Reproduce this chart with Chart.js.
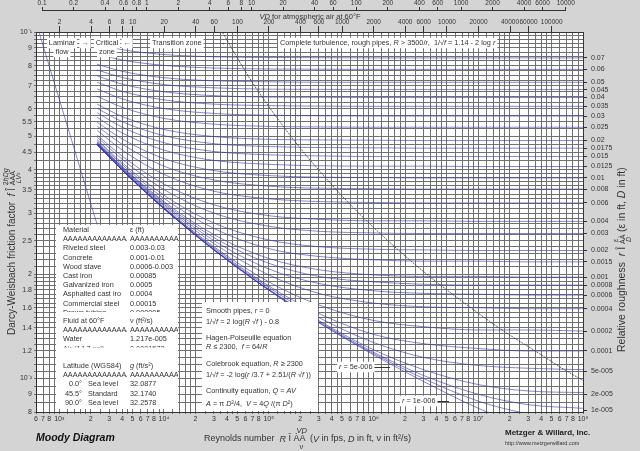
<!DOCTYPE html>
<html>
<head>
<meta charset="utf-8">
<title>Moody Diagram</title>
<script src="https://cdn.jsdelivr.net/npm/chart.js@4.4.1/dist/chart.umd.min.js"></script>
<style>
  html, body { margin: 0; padding: 0; background: #d4d4d4; }
  canvas { display: block; }
</style>
</head>
<body>
<canvas id="moody" width="640" height="451"></canvas>
<script>
const FONT = 'Arial, "Liberation Sans", sans-serif';
const TEXT = '#333';
const GRID = '#707070';
const FRAME = '#333';
const CURVE = 'rgba(55, 55, 165, 0.6)';

const reynolds = [2300, 4000, 1e4, 3e4, 1e5, 3e5, 1e6, 3e6, 1e7, 3e7, 1e8];

// relative roughness of each curve, top to bottom
const roughness = ['0.07', '0.06', '0.05', '0.045', '0.04', '0.035', '0.03', '0.025', '0.02',
  '0.0175', '0.015', '0.0125', '0.01', '0.008', '0.006', '0.004', '0.003', '0.002', '0.0015',
  '0.001', '0.0008', '0.0006', '0.0004', '0.0002', '0.0001', '5e-005', '2e-005', '1e-005',
  '5e-006', '1e-006'];

// friction factor of each curve at the Reynolds numbers above
const frictionCurves = [
  [0.0921, 0.0889, 0.0861, 0.0848, 0.0844, 0.0843, 0.0842, 0.0842, 0.0842, 0.0842, 0.0842],
  [0.0864, 0.0830, 0.0801, 0.0787, 0.0782, 0.0781, 0.0780, 0.0780, 0.0780, 0.0780, 0.0780],
  [0.0807, 0.0770, 0.0738, 0.0723, 0.0718, 0.0716, 0.0716, 0.0716, 0.0716, 0.0716, 0.0716],
  [0.0777, 0.0739, 0.0705, 0.0690, 0.0684, 0.0683, 0.0682, 0.0682, 0.0682, 0.0682, 0.0682],
  [0.0747, 0.0707, 0.0672, 0.0655, 0.0649, 0.0648, 0.0647, 0.0647, 0.0647, 0.0647, 0.0647],
  [0.0716, 0.0674, 0.0637, 0.0619, 0.0613, 0.0611, 0.0610, 0.0610, 0.0610, 0.0610, 0.0610],
  [0.0685, 0.0641, 0.0601, 0.0582, 0.0575, 0.0573, 0.0572, 0.0572, 0.0572, 0.0572, 0.0572],
  [0.0652, 0.0606, 0.0563, 0.0542, 0.0534, 0.0532, 0.0531, 0.0531, 0.0531, 0.0531, 0.0531],
  [0.0619, 0.0570, 0.0523, 0.0499, 0.0490, 0.0488, 0.0487, 0.0486, 0.0486, 0.0486, 0.0486],
  [0.0602, 0.0551, 0.0502, 0.0476, 0.0467, 0.0464, 0.0463, 0.0462, 0.0462, 0.0462, 0.0462],
  [0.0585, 0.0531, 0.0479, 0.0452, 0.0442, 0.0439, 0.0437, 0.0437, 0.0437, 0.0437, 0.0437],
  [0.0567, 0.0511, 0.0456, 0.0426, 0.0415, 0.0411, 0.0410, 0.0410, 0.0409, 0.0409, 0.0409],
  [0.0549, 0.0491, 0.0431, 0.0398, 0.0385, 0.0381, 0.0380, 0.0379, 0.0379, 0.0379, 0.0379],
  [0.0535, 0.0474, 0.0410, 0.0374, 0.0359, 0.0354, 0.0353, 0.0352, 0.0352, 0.0352, 0.0352],
  [0.0520, 0.0456, 0.0388, 0.0347, 0.0330, 0.0324, 0.0322, 0.0321, 0.0321, 0.0321, 0.0321],
  [0.0504, 0.0438, 0.0364, 0.0317, 0.0295, 0.0288, 0.0285, 0.0285, 0.0284, 0.0284, 0.0284],
  [0.0497, 0.0429, 0.0351, 0.0300, 0.0275, 0.0266, 0.0263, 0.0262, 0.0262, 0.0262, 0.0262],
  [0.0489, 0.0419, 0.0338, 0.0281, 0.0251, 0.0240, 0.0236, 0.0235, 0.0234, 0.0234, 0.0234],
  [0.0485, 0.0414, 0.0331, 0.0271, 0.0237, 0.0225, 0.0220, 0.0218, 0.0218, 0.0217, 0.0217],
  [0.0481, 0.0409, 0.0324, 0.0260, 0.0222, 0.0206, 0.0199, 0.0197, 0.0197, 0.0196, 0.0196],
  [0.0479, 0.0407, 0.0321, 0.0255, 0.0215, 0.0197, 0.0190, 0.0187, 0.0186, 0.0186, 0.0186],
  [0.0478, 0.0405, 0.0318, 0.0250, 0.0207, 0.0188, 0.0179, 0.0176, 0.0175, 0.0174, 0.0174],
  [0.0476, 0.0403, 0.0315, 0.0245, 0.0199, 0.0176, 0.0165, 0.0161, 0.0160, 0.0159, 0.0159],
  [0.0474, 0.0401, 0.0312, 0.0240, 0.0190, 0.0163, 0.0147, 0.0141, 0.0138, 0.0138, 0.0137],
  [0.0474, 0.0400, 0.0310, 0.0238, 0.0185, 0.0154, 0.0134, 0.0126, 0.0122, 0.0120, 0.0120],
  [0.0473, 0.0400, 0.0310, 0.0236, 0.0183, 0.0150, 0.0127, 0.0115, 0.0109, 0.0107, 0.0106],
  [0.0473, 0.0399, 0.0309, 0.0235, 0.0181, 0.0147, 0.0121, 0.0106, 0.0096, 0.0092, 0.0091],
  [0.0473, 0.0399, 0.0309, 0.0235, 0.0180, 0.0146, 0.0119, 0.0102, 0.0090, 0.0084, 0.0082],
  [0.0473, 0.0399, 0.0309, 0.0235, 0.0180, 0.0145, 0.0118, 0.0100, 0.0086, 0.0079, 0.0075],
  [0.0473, 0.0399, 0.0309, 0.0235, 0.0180, 0.0145, 0.0117, 0.0098, 0.0082, 0.0072, 0.0064],
];

// level where each curve runs flat; the right-hand axis labels sit there (first 28 curves)
const roughAsymptotes = [0.0842, 0.0780, 0.0716, 0.0682, 0.0647, 0.0610, 0.0572, 0.0531, 0.0486,
  0.0462, 0.0437, 0.0409, 0.0379, 0.0352, 0.0321, 0.0284, 0.0262, 0.0234, 0.0217, 0.0196,
  0.0186, 0.0174, 0.0159, 0.0137, 0.0120, 0.0105, 0.0090, 0.0081];

// laminar line
const laminarRe = [600, 2300];
const laminarF = [0.1067, 0.0278];

// start of complete turbulence, R = 3500/r
const boundaryRe = [3.5e4, 7e4, 1.75e5, 3.5e5, 7e5, 1.75e6, 3.5e6, 7e6, 1.75e7, 3.5e7, 7e7, 1.75e8];
const boundaryF = [0.1014, 0.0714, 0.0486, 0.0379, 0.0303, 0.0234, 0.0196, 0.0167, 0.0137, 0.0120, 0.0105, 0.0090];

// grid and tick labels
const xGridMantissas = [1, 1.2, 1.4, 1.6, 1.8, 2, 2.5, 3, 3.5, 4, 4.5, 5, 6, 7, 8, 9];
const xLabelMantissas = [2, 3, 4, 5, 6, 7, 8];
const yGridSteps = [[0.008, 0.01, 0.0005], [0.01, 0.02, 0.0005], [0.02, 0.04, 0.001], [0.04, 0.1, 0.0025]];
const yLabelValues = [0.008, 0.009, 0.01, 0.012, 0.014, 0.016, 0.018, 0.02, 0.025, 0.03, 0.035,
  0.04, 0.045, 0.05, 0.055, 0.06, 0.07, 0.08, 0.09, 0.1];
const yLabelTexts = ['8', '9', '10⁻²', '1.2', '1.4', '1.6', '1.8', '2', '2.5', '3', '3.5',
  '4', '4.5', '5', '5.5', '6', '7', '8', '9', '10⁻¹'];
const waterTicks = [0.1, 0.2, 0.4, 0.6, 0.8, 1, 2, 4, 6, 8, 10, 20, 40, 60, 100, 200, 400, 600,
  1000, 2000, 4000, 6000, 10000];
const airTicks = [2, 4, 6, 8, 10, 20, 40, 60, 100, 200, 400, 600, 1000, 2000, 4000, 6000, 10000,
  20000, 40000, 60000, 100000];
const WATER_VD_PER_RE = 1.46e-4;
const AIR_VD_PER_RE = 1.99e-3;

// side table
const materialRows = [['Riveted steel', '0.003-0.03'], ['Concrete', '0.001-0.01'],
  ['Wood stave', '0.0006-0.003'], ['Cast iron', '0.00085'], ['Galvanized iron', '0.0005'],
  ['Asphalted cast iro', '0.0004'], ['Commercial steel', '0.00015'], ['Drawn tubing', '0.000005']];
const fluidRows = [['Water', '1.217e-005'], ['Air (14.7 psi)', '0.0001572']];
const gravityRows = [['0.0°', 'Sea level', '32.0877'], ['45.5°', 'Standard', '32.1740'],
  ['90.0°', 'Sea level', '32.2578']];

const equationLines = [
  ['Smooth pipes, _r_ = 0', 311], ['1/√_f_ = 2 log(_R_ √_f_ ) - 0.8', 321.5],
  ['Hagen-Poiseuille equation', 338], ['_R_ ≤ 2300,  _f_ = 64/_R_', 347],
  ['Colebrook equation, _R_ ≥ 2300', 364], ['1/√_f_ = -2 log(_r_ /3.7 + 2.51/(_R_ √_f_ ))', 374.5],
  ['Continuity equation, _Q_ = _AV_', 391], ['_A_ = π _D_²/4,  _V_ = 4_Q_ /(π _D_²)', 404],
];

// ---- derived tick arrays ----
const SUP = { 2: '²', 3: '³', 4: '⁴', 5: '⁵', 6: '⁶', 7: '⁷', 8: '⁸' };
const xGrid = [];
for (let e = 2; e <= 7; e++) {
  xGridMantissas.forEach((m) => {
    const v = Math.round(m * 10 ** e);
    if (v >= 600) xGrid.push(v);
  });
}
xGrid.push(1e8);
const xGridLabels = xGrid.map((v) => {
  const e = Math.floor(Math.log10(v) + 1e-9);
  const m = Math.round((v / 10 ** e) * 100) / 100;
  if (m === 1) return '10' + SUP[e];
  return xLabelMantissas.includes(m) ? String(m) : '';
});

const yGrid = [];
yGridSteps.forEach(([from, to, step]) => {
  for (let k = 0; from + k * step < to - 1e-9; k++) yGrid.push(+(from + k * step).toFixed(5));
});
yGrid.push(0.1);
const yGridLabels = yGrid.map((v) => {
  const i = yLabelValues.findIndex((l) => Math.abs(l - v) < 1e-7);
  return i >= 0 ? yLabelTexts[i] : '';
});

// ---- text helpers ----
const fontFor = (size, italic, bold) =>
  (italic ? 'italic ' : '') + (bold ? 'bold ' : '') + size + 'px ' + FONT;

function richWidth(ctx, str, size, bold) {
  let w = 0;
  str.split('_').forEach((p, i) => {
    ctx.font = fontFor(size, i % 2 === 1, bold);
    w += ctx.measureText(p).width;
  });
  return w;
}

function drawRich(ctx, str, x, y, size, bold) {
  str.split('_').forEach((p, i) => {
    ctx.font = fontFor(size, i % 2 === 1, bold);
    ctx.fillText(p, x, y);
    x += ctx.measureText(p).width;
  });
}

function label(ctx, str, x, y, opts = {}) {
  const size = opts.size || 7.3;
  const w = richWidth(ctx, str, size, opts.bold);
  const left = opts.align === 'center' ? x - w / 2 : opts.align === 'right' ? x - w : x;
  if (opts.bg) {
    ctx.fillStyle = '#fff';
    ctx.fillRect(left - 2, y - size * 0.72, w + 4, size * 1.44);
  }
  ctx.fillStyle = opts.color || TEXT;
  drawRich(ctx, str, left, y, size, opts.bold);
  return left + w;
}

function tableSection(ctx, top, clipBottom, header, rows, three) {
  const pitch = 9.2;
  ctx.save();
  ctx.beginPath();
  ctx.rect(56, top - 6, 122, clipBottom - top + 6);
  ctx.clip();
  label(ctx, header[0], 63, top);
  label(ctx, header[1], 130, top);
  ctx.save();
  ctx.beginPath();
  ctx.rect(63, top, 64, 12);
  ctx.clip();
  label(ctx, 'AAAAAAAAAAAAAA', 63, top + pitch);
  ctx.restore();
  label(ctx, 'AAAAAAAAAA', 130, top + pitch);
  rows.forEach((r, i) => {
    const y = top + pitch * (i + 2);
    if (three) {
      label(ctx, r[0], 82, y, { align: 'right' });
      label(ctx, r[1], 88, y);
      label(ctx, r[2], 130, y);
    } else {
      label(ctx, r[0], 63, y);
      label(ctx, r[1], 130, y);
    }
  });
  ctx.restore();
}

const overlay = {
  id: 'overlay',
  beforeDraw(chart) {
    const { ctx, chartArea: a } = chart;
    ctx.save();
    ctx.fillStyle = '#d4d4d4';
    ctx.fillRect(0, 0, chart.width, chart.height);
    ctx.fillStyle = '#fff';
    ctx.fillRect(a.left, a.top, a.right - a.left, a.bottom - a.top);
    ctx.restore();
  },
  afterDatasetsDraw(chart) {
    const ctx = chart.ctx;
    ctx.save();
    ctx.textBaseline = 'middle';

    // zone captions along the top
    label(ctx, 'Laminar', 62, 43, { align: 'center', bg: true });
    label(ctx, 'flow', 62, 52, { align: 'center', bg: true });
    label(ctx, '→', 85, 43, { align: 'center', bg: true });
    label(ctx, 'Critical', 107, 43, { align: 'center', bg: true });
    label(ctx, 'zone', 107, 52, { align: 'center', bg: true });
    label(ctx, '←', 127, 43, { align: 'center', bg: true });
    label(ctx, 'Transition zone', 152, 43, { bg: true });
    label(ctx, '→', 222, 43, { align: 'center' });
    label(ctx, '←', 233, 43, { align: 'center' });
    label(ctx, 'Complete turbulence, rough pipes, _R_ > 3500/_r_,  1/√_f_ = 1.14 - 2 log _r_', 280, 43, { bg: true });

    // material / fluid / gravity table
    ctx.fillStyle = '#fff';
    ctx.fillRect(56, 225, 122, 184);
    tableSection(ctx, 230, 312, ['Material', 'ε (ft)'], materialRows);
    tableSection(ctx, 321, 347.5, ['Fluid at 60°F', 'ν (ft²/s)'], fluidRows);
    tableSection(ctx, 366, 409, ['Latitude (WGS84)', '_g_ (ft/s²)'], gravityRows, true);

    // equations
    ctx.fillStyle = '#fff';
    ctx.fillRect(202, 302, 116, 109);
    equationLines.forEach(([t, y]) => label(ctx, t, 206, y));

    // inline curve labels
    ctx.strokeStyle = '#333';
    ctx.lineWidth = 1;
    let end = label(ctx, '_r_ = 5e-006', 339, 367, { bg: true });
    ctx.beginPath(); ctx.moveTo(end + 2, 367.5); ctx.lineTo(390, 367.5); ctx.stroke();
    end = label(ctx, '_r_ = 1e-006', 402, 401, { bg: true });
    ctx.beginPath(); ctx.moveTo(end + 2, 401.5); ctx.lineTo(449, 401.5); ctx.stroke();
    ctx.restore();
  },
  afterDraw(chart) {
    const ctx = chart.ctx;
    const w = chart.scales.xWater;
    ctx.save();
    // water axis line only spans its labelled range
    ctx.strokeStyle = FRAME;
    ctx.lineWidth = 1;
    ctx.beginPath();
    ctx.moveTo(w.getPixelForValue(waterTicks[0]), w.bottom - 0.5);
    ctx.lineTo(w.getPixelForValue(waterTicks[waterTicks.length - 1]), w.bottom - 0.5);
    ctx.stroke();

    ctx.textBaseline = 'middle';
    label(ctx, '_VD_ for atmospheric air at 60°F', 310, 16.5, { align: 'center', size: 7.5 });

    // bottom captions
    label(ctx, '_Moody Diagram_', 36, 438, { size: 10.5, bold: true, color: '#111' });
    const x = label(ctx, 'Reynolds number  _R_ Î ÀÀ', 204, 439, { size: 9 });
    label(ctx, '_VD_', x - 9, 431, { size: 7.5 });
    label(ctx, 'ν', x - 6, 446.5, { size: 7.5 });
    label(ctx, ' (_V_ in fps, _D_ in ft, ν in ft²/s)', x + 2, 439, { size: 9 });
    label(ctx, 'Metzger & Willard, Inc.', 505, 433, { size: 8, bold: true, color: '#222' });
    label(ctx, 'http://www.metzgerwillard.com', 505, 443, { size: 5.5 });

    // left title, reading upwards
    ctx.save();
    ctx.translate(12, 335);
    ctx.rotate(-Math.PI / 2);
    const lw = label(ctx, 'Darcy-Weisbach friction factor  _f_ Î ', 0, 0, { size: 10 });
    label(ctx, '2_hDg_', lw, -6, { size: 7 });
    label(ctx, 'ÀÀÀ', lw, 1, { size: 7 });
    label(ctx, '_LV_²', lw + 2, 7, { size: 7 });
    ctx.restore();

    // right title, reading upwards
    ctx.save();
    ctx.translate(622, 352);
    ctx.rotate(-Math.PI / 2);
    const rw = label(ctx, 'Relative roughness  _r_ Î ', 0, 0, { size: 10.5 });
    label(ctx, 'ε', rw + 2, -6, { size: 7 });
    label(ctx, 'ÀÀ', rw, 1, { size: 7 });
    label(ctx, '_D_', rw + 2, 7, { size: 7 });
    label(ctx, '(ε in ft, _D_ in ft)', rw + 12, 0, { size: 10.5 });
    ctx.restore();
    ctx.restore();
  },
};

const fixTicks = (values) => (scale) => {
  scale.ticks = values.map((v) => ({ value: v }));
};

Chart.defaults.font.family = FONT;
Chart.defaults.font.size = 7;
Chart.defaults.color = TEXT;

const datasets = [
  {
    label: 'R = 3500/r',
    data: boundaryRe.map((re, i) => ({ x: re, y: boundaryF[i] })),
    borderColor: '#333',
    borderWidth: 0.8,
    borderDash: [2, 1],
    pointRadius: 0,
    showLine: true,
    cubicInterpolationMode: 'monotone',
  },
  {
    label: 'Laminar',
    data: laminarRe.map((re, i) => ({ x: re, y: laminarF[i] })),
    borderColor: CURVE,
    borderWidth: 1,
    pointRadius: 0,
    showLine: true,
  },
  ...frictionCurves.map((row, i) => ({
    label: 'r = ' + roughness[i],
    data: row.map((f, j) => ({ x: reynolds[j], y: f })),
    borderColor: CURVE,
    borderWidth: 1,
    pointRadius: 0,
    showLine: true,
    cubicInterpolationMode: 'monotone',
  })),
];

new Chart(document.getElementById('moody'), {
  type: 'scatter',
  data: { datasets },
  options: {
    responsive: false,
    animation: false,
    devicePixelRatio: 1,
    layout: { padding: 0 },
    events: [],
    plugins: { legend: { display: false }, tooltip: { enabled: false } },
    scales: {
      x: {
        type: 'logarithmic',
        position: 'bottom',
        min: 600,
        max: 1e8,
        afterBuildTicks: fixTicks(xGrid),
        afterFit: (s) => { s.height = 39; },
        ticks: { autoSkip: false, maxRotation: 0, minRotation: 0, padding: 1, callback: (v, i) => xGridLabels[i] },
        grid: { color: GRID, tickLength: 2, tickColor: GRID },
        border: { color: FRAME },
      },
      y: {
        type: 'logarithmic',
        position: 'left',
        min: 0.008,
        max: 0.1,
        afterBuildTicks: fixTicks(yGrid),
        afterFit: (s) => { s.width = 36; },
        ticks: { autoSkip: false, padding: 2, callback: (v, i) => yGridLabels[i] },
        grid: { color: GRID, tickLength: 2, tickColor: GRID },
        border: { color: FRAME },
      },
      yRough: {
        type: 'logarithmic',
        position: 'right',
        min: 0.008,
        max: 0.1,
        afterBuildTicks: fixTicks(roughAsymptotes),
        afterFit: (s) => { s.width = 57; },
        ticks: { autoSkip: false, padding: 4, callback: (v, i) => roughness[i] },
        grid: { drawOnChartArea: false, color: FRAME, tickLength: 4 },
        border: { color: FRAME },
      },
      xAir: {
        type: 'logarithmic',
        position: 'top',
        weight: 0,
        min: 600 * AIR_VD_PER_RE,
        max: 1e8 * AIR_VD_PER_RE,
        afterBuildTicks: fixTicks(airTicks),
        afterFit: (s) => { s.height = 21; },
        ticks: { autoSkip: false, maxRotation: 0, minRotation: 0, padding: 0, font: { size: 6.5 }, callback: (v, i) => String(airTicks[i]) },
        grid: { drawOnChartArea: false, color: FRAME, tickLength: 6 },
        border: { color: FRAME },
      },
      xWater: {
        type: 'logarithmic',
        position: 'top',
        weight: 1,
        min: 600 * WATER_VD_PER_RE,
        max: 1e8 * WATER_VD_PER_RE,
        afterBuildTicks: fixTicks(waterTicks),
        afterFit: (s) => { s.height = 11; },
        ticks: { autoSkip: false, maxRotation: 0, minRotation: 0, padding: 0, font: { size: 6.5 }, callback: (v, i) => String(waterTicks[i]) },
        grid: { drawOnChartArea: false, color: FRAME, tickLength: 4 },
        border: { display: false },
      },
    },
  },
  plugins: [overlay],
});
</script>
</body>
</html>
